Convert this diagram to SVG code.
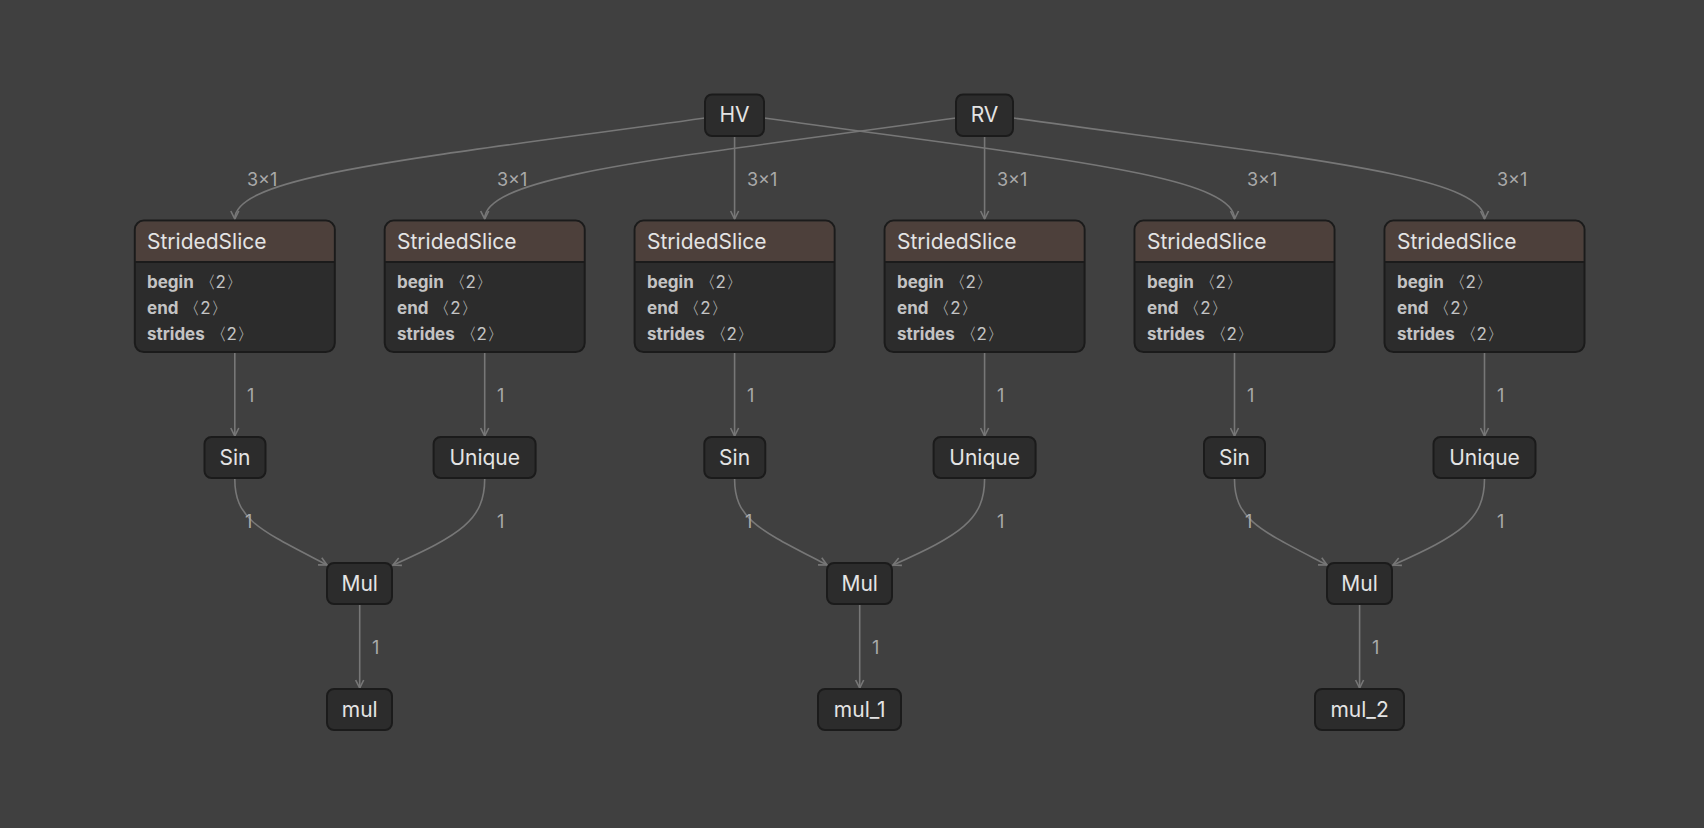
<svg xmlns="http://www.w3.org/2000/svg" width="1704" height="828" viewBox="0 0 1704 828">
<defs>
<marker id="ah" viewBox="0 0 10 10" refX="9" refY="5" markerWidth="10" markerHeight="10" markerUnits="userSpaceOnUse" orient="auto"><path d="M1,1 L9,5 L1,9" fill="none" stroke="#777" stroke-width="1.6"/></marker>
<style>
.b{fill:#2c2c2c;stroke:#1b1b1b;stroke-width:2}
.h{fill:#4d403b}
.t{font-family:Inter,"Noto Sans",sans-serif;font-size:21px;fill:#e4e4e4}
.a{font-family:Inter,"Noto Sans",sans-serif;font-size:17px;fill:#c4c4c4}
.a tspan.k{font-weight:bold}
.e{fill:none;stroke:#777;stroke-width:1.6;marker-end:url(#ah)}
.l{font-family:Inter,"Noto Sans",sans-serif;font-size:18px;fill:#aaa}
</style>
</defs>
<rect width="1704" height="828" fill="#404040"/>
<g id="edges">
<path class="e" d="M705,118 C420,158 234.8,175 234.8,219"/>
<path class="e" d="M734.6,137 L734.6,219"/>
<path class="e" d="M764,118 C1050,158 1234.5,175 1234.5,219"/>
<path class="e" d="M956,118 C670,158 484.7,175 484.7,219"/>
<path class="e" d="M984.6,137 L984.6,219"/>
<path class="e" d="M1013,118 C1300,158 1484.5,175 1484.5,219"/>
<text class="l" x="247" y="186">3×1</text><text class="l" x="497" y="186">3×1</text><text class="l" x="747" y="186">3×1</text>
<text class="l" x="997" y="186">3×1</text><text class="l" x="1247" y="186">3×1</text><text class="l" x="1497" y="186">3×1</text>
<path class="e" d="M234.8,353 L234.8,436"/><path class="e" d="M484.7,353 L484.7,436"/>
<path class="e" d="M734.6,353 L734.6,436"/><path class="e" d="M984.6,353 L984.6,436"/>
<path class="e" d="M1234.5,353 L1234.5,436"/><path class="e" d="M1484.5,353 L1484.5,436"/>
<text class="l" x="247" y="402">1</text><text class="l" x="497" y="402">1</text><text class="l" x="747" y="402">1</text>
<text class="l" x="997" y="402">1</text><text class="l" x="1247" y="402">1</text><text class="l" x="1497" y="402">1</text>
<path class="e" d="M234.8,479 C234.8,520 260,530 327,565"/>
<path class="e" d="M484.7,479 C484.7,520 460,535 393,565"/>
<path class="e" d="M734.6,479 C734.6,520 760,530 827,565"/>
<path class="e" d="M984.6,479 C984.6,520 960,535 893,565"/>
<path class="e" d="M1234.5,479 C1234.5,520 1260,530 1327,565"/>
<path class="e" d="M1484.5,479 C1484.5,520 1460,535 1393,565"/>
<text class="l" x="245" y="528">1</text><text class="l" x="497" y="528">1</text><text class="l" x="745" y="528">1</text>
<text class="l" x="997" y="528">1</text><text class="l" x="1245" y="528">1</text><text class="l" x="1497" y="528">1</text>
<path class="e" d="M359.7,605 L359.7,688"/><path class="e" d="M859.7,605 L859.7,688"/><path class="e" d="M1359.6,605 L1359.6,688"/>
<text class="l" x="372" y="654">1</text><text class="l" x="872" y="654">1</text><text class="l" x="1372" y="654">1</text>
</g>
<g id="HV"><rect class="b" x="705" y="94.5" width="59" height="41.5" rx="7"/><text class="t" x="734.5" y="122" text-anchor="middle">HV</text></g>
<g id="RV"><rect class="b" x="956" y="94.5" width="57" height="41.5" rx="7"/><text class="t" x="984.5" y="122" text-anchor="middle">RV</text></g>
<g id="ss1"><rect class="b" x="134.8" y="220.6" width="200" height="131.5" rx="9"/><path class="h" d="M135.8,262 V229.6 a8,8 0 0 1 8,-8 H325.8 a8,8 0 0 1 8,8 V262 Z"/><line x1="135" y1="262" x2="334.5" y2="262" stroke="#1b1b1b" stroke-width="2"/><text class="t" x="147" y="249">StridedSlice</text><text class="a" x="147" y="288"><tspan class="k">begin</tspan> 〈2〉</text><text class="a" x="147" y="314"><tspan class="k">end</tspan> 〈2〉</text><text class="a" x="147" y="340"><tspan class="k">strides</tspan> 〈2〉</text></g>
<g id="ss2"><rect class="b" x="384.7" y="220.6" width="200" height="131.5" rx="9"/><path class="h" d="M385.7,262 V229.6 a8,8 0 0 1 8,-8 H575.7 a8,8 0 0 1 8,8 V262 Z"/><line x1="385" y1="262" x2="584.5" y2="262" stroke="#1b1b1b" stroke-width="2"/><text class="t" x="397" y="249">StridedSlice</text><text class="a" x="397" y="288"><tspan class="k">begin</tspan> 〈2〉</text><text class="a" x="397" y="314"><tspan class="k">end</tspan> 〈2〉</text><text class="a" x="397" y="340"><tspan class="k">strides</tspan> 〈2〉</text></g>
<g id="ss3"><rect class="b" x="634.6" y="220.6" width="200" height="131.5" rx="9"/><path class="h" d="M635.6,262 V229.6 a8,8 0 0 1 8,-8 H825.6 a8,8 0 0 1 8,8 V262 Z"/><line x1="635" y1="262" x2="834.5" y2="262" stroke="#1b1b1b" stroke-width="2"/><text class="t" x="647" y="249">StridedSlice</text><text class="a" x="647" y="288"><tspan class="k">begin</tspan> 〈2〉</text><text class="a" x="647" y="314"><tspan class="k">end</tspan> 〈2〉</text><text class="a" x="647" y="340"><tspan class="k">strides</tspan> 〈2〉</text></g>
<g id="ss4"><rect class="b" x="884.6" y="220.6" width="200" height="131.5" rx="9"/><path class="h" d="M885.6,262 V229.6 a8,8 0 0 1 8,-8 H1075.6 a8,8 0 0 1 8,8 V262 Z"/><line x1="885" y1="262" x2="1084.5" y2="262" stroke="#1b1b1b" stroke-width="2"/><text class="t" x="897" y="249">StridedSlice</text><text class="a" x="897" y="288"><tspan class="k">begin</tspan> 〈2〉</text><text class="a" x="897" y="314"><tspan class="k">end</tspan> 〈2〉</text><text class="a" x="897" y="340"><tspan class="k">strides</tspan> 〈2〉</text></g>
<g id="ss5"><rect class="b" x="1134.5" y="220.6" width="200" height="131.5" rx="9"/><path class="h" d="M1135.5,262 V229.6 a8,8 0 0 1 8,-8 H1325.5 a8,8 0 0 1 8,8 V262 Z"/><line x1="1135" y1="262" x2="1334.5" y2="262" stroke="#1b1b1b" stroke-width="2"/><text class="t" x="1147" y="249">StridedSlice</text><text class="a" x="1147" y="288"><tspan class="k">begin</tspan> 〈2〉</text><text class="a" x="1147" y="314"><tspan class="k">end</tspan> 〈2〉</text><text class="a" x="1147" y="340"><tspan class="k">strides</tspan> 〈2〉</text></g>
<g id="ss6"><rect class="b" x="1384.5" y="220.6" width="200" height="131.5" rx="9"/><path class="h" d="M1385.5,262 V229.6 a8,8 0 0 1 8,-8 H1575.5 a8,8 0 0 1 8,8 V262 Z"/><line x1="1385" y1="262" x2="1584.5" y2="262" stroke="#1b1b1b" stroke-width="2"/><text class="t" x="1397" y="249">StridedSlice</text><text class="a" x="1397" y="288"><tspan class="k">begin</tspan> 〈2〉</text><text class="a" x="1397" y="314"><tspan class="k">end</tspan> 〈2〉</text><text class="a" x="1397" y="340"><tspan class="k">strides</tspan> 〈2〉</text></g>
<g id="sin1"><rect class="b" x="204.5" y="437" width="61" height="41" rx="7"/><text class="t" x="235" y="465" text-anchor="middle">Sin</text></g>
<g id="uni1"><rect class="b" x="433.6" y="437" width="102" height="41" rx="7"/><text class="t" x="484.7" y="465" text-anchor="middle">Unique</text></g>
<g id="sin2"><rect class="b" x="704.3" y="437" width="61" height="41" rx="7"/><text class="t" x="734.6" y="465" text-anchor="middle">Sin</text></g>
<g id="uni2"><rect class="b" x="933.6" y="437" width="102" height="41" rx="7"/><text class="t" x="984.6" y="465" text-anchor="middle">Unique</text></g>
<g id="sin3"><rect class="b" x="1204" y="437" width="61" height="41" rx="7"/><text class="t" x="1234.5" y="465" text-anchor="middle">Sin</text></g>
<g id="uni3"><rect class="b" x="1433.5" y="437" width="102" height="41" rx="7"/><text class="t" x="1484.5" y="465" text-anchor="middle">Unique</text></g>
<g id="mul1"><rect class="b" x="327" y="563" width="65" height="41" rx="7"/><text class="t" x="359.7" y="591" text-anchor="middle">Mul</text></g>
<g id="mul2"><rect class="b" x="827" y="563" width="65" height="41" rx="7"/><text class="t" x="859.7" y="591" text-anchor="middle">Mul</text></g>
<g id="mul3"><rect class="b" x="1327" y="563" width="65" height="41" rx="7"/><text class="t" x="1359.6" y="591" text-anchor="middle">Mul</text></g>
<g id="out1"><rect class="b" x="327" y="689" width="65" height="41" rx="7"/><text class="t" x="359.7" y="717" text-anchor="middle">mul</text></g>
<g id="out2"><rect class="b" x="818" y="689" width="83" height="41" rx="7"/><text class="t" x="859.7" y="717" text-anchor="middle">mul_1</text></g>
<g id="out3"><rect class="b" x="1315" y="689" width="89" height="41" rx="7"/><text class="t" x="1359.6" y="717" text-anchor="middle">mul_2</text></g>
</svg>
